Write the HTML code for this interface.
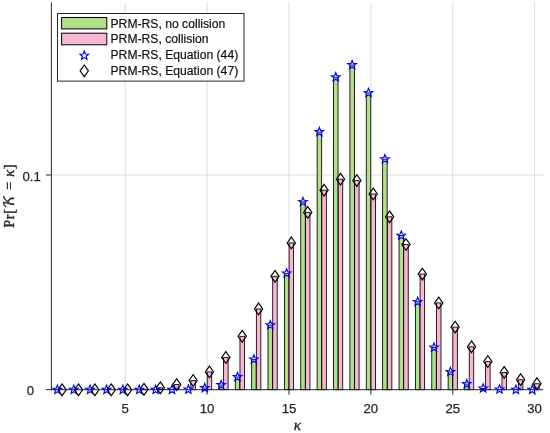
<!DOCTYPE html>
<html><head><meta charset="utf-8"><title>chart</title>
<style>html,body{margin:0;padding:0;background:#fff}svg{display:block}</style></head>
<body>
<svg width="550" height="433" viewBox="0 0 550 433">
<rect width="550" height="433" fill="#fff"/>
<g stroke="#dedede" stroke-width="1" fill="none">
<line x1="125.25" y1="2.4" x2="125.25" y2="389.7"/>
<line x1="207.12" y1="2.4" x2="207.12" y2="389.7"/>
<line x1="289.00" y1="2.4" x2="289.00" y2="389.7"/>
<line x1="370.88" y1="2.4" x2="370.88" y2="389.7"/>
<line x1="452.75" y1="2.4" x2="452.75" y2="389.7"/>
<line x1="534.62" y1="2.4" x2="534.62" y2="389.7"/>
<line x1="51.4" y1="175" x2="543.2" y2="175"/>
</g>
<g stroke="#000" stroke-width="0.85" fill="#b2df8a">
<rect x="202.53" y="388.00" width="4.5" height="1.70"/>
<rect x="218.90" y="385.00" width="4.5" height="4.70"/>
<rect x="235.28" y="377.00" width="4.5" height="12.70"/>
<rect x="251.65" y="359.30" width="4.5" height="30.40"/>
<rect x="268.02" y="325.10" width="4.5" height="64.60"/>
<rect x="284.40" y="273.30" width="4.5" height="116.40"/>
<rect x="300.77" y="201.90" width="4.5" height="187.80"/>
<rect x="317.15" y="132.00" width="4.5" height="257.70"/>
<rect x="333.52" y="77.20" width="4.5" height="312.50"/>
<rect x="349.90" y="65.00" width="4.5" height="324.70"/>
<rect x="366.27" y="92.90" width="4.5" height="296.80"/>
<rect x="382.65" y="159.10" width="4.5" height="230.60"/>
<rect x="399.02" y="235.60" width="4.5" height="154.10"/>
<rect x="415.40" y="301.80" width="4.5" height="87.90"/>
<rect x="431.77" y="347.50" width="4.5" height="42.20"/>
<rect x="448.15" y="371.90" width="4.5" height="17.80"/>
<rect x="464.52" y="384.00" width="4.5" height="5.70"/>
<rect x="480.90" y="388.40" width="4.5" height="1.30"/>
<rect x="497.27" y="389.40" width="4.5" height="0.30"/>
</g>
<g stroke="#000" stroke-width="0.85" fill="#f7b6d2">
<rect x="141.72" y="389.30" width="4.5" height="0.40"/>
<rect x="158.10" y="387.80" width="4.5" height="1.90"/>
<rect x="174.47" y="384.60" width="4.5" height="5.10"/>
<rect x="190.85" y="380.50" width="4.5" height="9.20"/>
<rect x="207.22" y="371.90" width="4.5" height="17.80"/>
<rect x="223.60" y="357.40" width="4.5" height="32.30"/>
<rect x="239.97" y="336.30" width="4.5" height="53.40"/>
<rect x="256.35" y="308.90" width="4.5" height="80.80"/>
<rect x="272.73" y="276.30" width="4.5" height="113.40"/>
<rect x="289.10" y="242.90" width="4.5" height="146.80"/>
<rect x="305.48" y="212.40" width="4.5" height="177.30"/>
<rect x="321.85" y="190.20" width="4.5" height="199.50"/>
<rect x="338.23" y="179.20" width="4.5" height="210.50"/>
<rect x="354.60" y="180.60" width="4.5" height="209.10"/>
<rect x="370.98" y="194.00" width="4.5" height="195.70"/>
<rect x="387.35" y="216.80" width="4.5" height="172.90"/>
<rect x="403.73" y="244.50" width="4.5" height="145.20"/>
<rect x="420.10" y="274.10" width="4.5" height="115.60"/>
<rect x="436.48" y="302.90" width="4.5" height="86.80"/>
<rect x="452.85" y="327.10" width="4.5" height="62.60"/>
<rect x="469.23" y="346.80" width="4.5" height="42.90"/>
<rect x="485.60" y="361.60" width="4.5" height="28.10"/>
<rect x="501.98" y="372.40" width="4.5" height="17.30"/>
<rect x="518.35" y="379.70" width="4.5" height="10.00"/>
<rect x="534.73" y="383.70" width="4.5" height="6.00"/>
</g>
<g stroke="#262626" stroke-width="1" fill="none">
<line x1="51.4" y1="2.4" x2="51.4" y2="390.2"/>
<line x1="51.4" y1="389.7" x2="543.2" y2="389.7"/>
<line x1="125.25" y1="389.7" x2="125.25" y2="394.7"/>
<line x1="207.12" y1="389.7" x2="207.12" y2="394.7"/>
<line x1="289.00" y1="389.7" x2="289.00" y2="394.7"/>
<line x1="370.88" y1="389.7" x2="370.88" y2="394.7"/>
<line x1="452.75" y1="389.7" x2="452.75" y2="394.7"/>
<line x1="534.62" y1="389.7" x2="534.62" y2="394.7"/>
<line x1="45.9" y1="175" x2="51.4" y2="175"/>
<line x1="45.9" y1="389.7" x2="51.4" y2="389.7"/>
</g>
<g stroke="#0000ff" stroke-width="1.15" fill="none" stroke-linejoin="miter">
<polygon points="57.40,385.15 58.55,388.12 61.73,388.29 59.26,390.30 60.07,393.38 57.40,391.66 54.73,393.38 55.54,390.30 53.07,388.29 56.25,388.12"/>
<polygon points="73.78,385.15 74.93,388.12 78.10,388.29 75.64,390.30 76.45,393.38 73.78,391.66 71.10,393.38 71.91,390.30 69.45,388.29 72.62,388.12"/>
<polygon points="90.15,385.15 91.30,388.12 94.48,388.29 92.01,390.30 92.82,393.38 90.15,391.66 87.48,393.38 88.29,390.30 85.82,388.29 89.00,388.12"/>
<polygon points="106.53,385.15 107.68,388.12 110.85,388.29 108.39,390.30 109.20,393.38 106.53,391.66 103.85,393.38 104.66,390.30 102.20,388.29 105.37,388.12"/>
<polygon points="122.90,385.15 124.05,388.12 127.23,388.29 124.76,390.30 125.57,393.38 122.90,391.66 120.23,393.38 121.04,390.30 118.57,388.29 121.75,388.12"/>
<polygon points="139.28,385.15 140.43,388.12 143.60,388.29 141.14,390.30 141.95,393.38 139.28,391.66 136.60,393.38 137.41,390.30 134.95,388.29 138.12,388.12"/>
<polygon points="155.65,385.15 156.80,388.12 159.98,388.29 157.51,390.30 158.32,393.38 155.65,391.66 152.98,393.38 153.79,390.30 151.32,388.29 154.50,388.12"/>
<polygon points="172.03,385.15 173.18,388.12 176.35,388.29 173.89,390.30 174.70,393.38 172.03,391.66 169.35,393.38 170.16,390.30 167.70,388.29 170.87,388.12"/>
<polygon points="188.40,384.95 189.55,387.92 192.73,388.09 190.26,390.10 191.07,393.18 188.40,391.46 185.73,393.18 186.54,390.10 184.07,388.09 187.25,387.92"/>
<polygon points="204.78,383.45 205.93,386.42 209.10,386.59 206.64,388.60 207.45,391.68 204.78,389.96 202.10,391.68 202.91,388.60 200.45,386.59 203.62,386.42"/>
<polygon points="221.15,380.45 222.30,383.42 225.48,383.59 223.01,385.60 223.82,388.68 221.15,386.96 218.48,388.68 219.29,385.60 216.82,383.59 220.00,383.42"/>
<polygon points="237.53,372.45 238.68,375.42 241.85,375.59 239.39,377.60 240.20,380.68 237.53,378.96 234.85,380.68 235.66,377.60 233.20,375.59 236.37,375.42"/>
<polygon points="253.90,354.75 255.05,357.72 258.23,357.89 255.76,359.90 256.57,362.98 253.90,361.26 251.23,362.98 252.04,359.90 249.57,357.89 252.75,357.72"/>
<polygon points="270.27,320.55 271.43,323.52 274.60,323.69 272.14,325.70 272.95,328.78 270.27,327.06 267.60,328.78 268.41,325.70 265.95,323.69 269.12,323.52"/>
<polygon points="286.65,268.75 287.80,271.72 290.98,271.89 288.51,273.90 289.32,276.98 286.65,275.26 283.98,276.98 284.79,273.90 282.32,271.89 285.50,271.72"/>
<polygon points="303.02,197.35 304.18,200.32 307.35,200.49 304.89,202.50 305.70,205.58 303.02,203.86 300.35,205.58 301.16,202.50 298.70,200.49 301.87,200.32"/>
<polygon points="319.40,127.45 320.55,130.42 323.73,130.59 321.26,132.60 322.07,135.68 319.40,133.96 316.73,135.68 317.54,132.60 315.07,130.59 318.25,130.42"/>
<polygon points="335.77,72.65 336.93,75.62 340.10,75.79 337.64,77.80 338.45,80.88 335.77,79.16 333.10,80.88 333.91,77.80 331.45,75.79 334.62,75.62"/>
<polygon points="352.15,60.45 353.30,63.42 356.48,63.59 354.01,65.60 354.82,68.68 352.15,66.96 349.48,68.68 350.29,65.60 347.82,63.59 351.00,63.42"/>
<polygon points="368.52,88.35 369.68,91.32 372.85,91.49 370.39,93.50 371.20,96.58 368.52,94.86 365.85,96.58 366.66,93.50 364.20,91.49 367.37,91.32"/>
<polygon points="384.90,154.55 386.05,157.52 389.23,157.69 386.76,159.70 387.57,162.78 384.90,161.06 382.23,162.78 383.04,159.70 380.57,157.69 383.75,157.52"/>
<polygon points="401.27,231.05 402.43,234.02 405.60,234.19 403.14,236.20 403.95,239.28 401.27,237.56 398.60,239.28 399.41,236.20 396.95,234.19 400.12,234.02"/>
<polygon points="417.65,297.25 418.80,300.22 421.98,300.39 419.51,302.40 420.32,305.48 417.65,303.76 414.98,305.48 415.79,302.40 413.32,300.39 416.50,300.22"/>
<polygon points="434.02,342.95 435.18,345.92 438.35,346.09 435.89,348.10 436.70,351.18 434.02,349.46 431.35,351.18 432.16,348.10 429.70,346.09 432.87,345.92"/>
<polygon points="450.40,367.35 451.55,370.32 454.73,370.49 452.26,372.50 453.07,375.58 450.40,373.86 447.73,375.58 448.54,372.50 446.07,370.49 449.25,370.32"/>
<polygon points="466.77,379.45 467.93,382.42 471.10,382.59 468.64,384.60 469.45,387.68 466.77,385.96 464.10,387.68 464.91,384.60 462.45,382.59 465.62,382.42"/>
<polygon points="483.15,383.85 484.30,386.82 487.48,386.99 485.01,389.00 485.82,392.08 483.15,390.36 480.48,392.08 481.29,389.00 478.82,386.99 482.00,386.82"/>
<polygon points="499.52,384.85 500.68,387.82 503.85,387.99 501.39,390.00 502.20,393.08 499.52,391.36 496.85,393.08 497.66,390.00 495.20,387.99 498.37,387.82"/>
<polygon points="515.90,385.15 517.05,388.12 520.23,388.29 517.76,390.30 518.57,393.38 515.90,391.66 513.23,393.38 514.04,390.30 511.57,388.29 514.75,388.12"/>
<polygon points="532.27,385.15 533.43,388.12 536.60,388.29 534.14,390.30 534.95,393.38 532.27,391.66 529.60,393.38 530.41,390.30 527.95,388.29 531.12,388.12"/>
</g>
<g stroke="#000" stroke-width="1.15" fill="none" stroke-linejoin="miter">
<polygon points="62.10,383.95 66.25,389.80 62.10,395.65 57.95,389.80"/>
<polygon points="78.47,383.95 82.62,389.80 78.47,395.65 74.32,389.80"/>
<polygon points="94.85,383.95 99.00,389.80 94.85,395.65 90.70,389.80"/>
<polygon points="111.22,383.95 115.38,389.80 111.22,395.65 107.07,389.80"/>
<polygon points="127.60,383.95 131.75,389.80 127.60,395.65 123.45,389.80"/>
<polygon points="143.97,383.45 148.12,389.30 143.97,395.15 139.82,389.30"/>
<polygon points="160.35,381.95 164.50,387.80 160.35,393.65 156.20,387.80"/>
<polygon points="176.72,378.75 180.88,384.60 176.72,390.45 172.57,384.60"/>
<polygon points="193.10,374.65 197.25,380.50 193.10,386.35 188.95,380.50"/>
<polygon points="209.47,366.05 213.62,371.90 209.47,377.75 205.32,371.90"/>
<polygon points="225.85,351.55 230.00,357.40 225.85,363.25 221.70,357.40"/>
<polygon points="242.22,330.45 246.38,336.30 242.22,342.15 238.07,336.30"/>
<polygon points="258.60,303.05 262.75,308.90 258.60,314.75 254.45,308.90"/>
<polygon points="274.98,270.45 279.12,276.30 274.98,282.15 270.83,276.30"/>
<polygon points="291.35,237.05 295.50,242.90 291.35,248.75 287.20,242.90"/>
<polygon points="307.73,206.55 311.88,212.40 307.73,218.25 303.58,212.40"/>
<polygon points="324.10,184.35 328.25,190.20 324.10,196.05 319.95,190.20"/>
<polygon points="340.48,173.35 344.62,179.20 340.48,185.05 336.33,179.20"/>
<polygon points="356.85,174.75 361.00,180.60 356.85,186.45 352.70,180.60"/>
<polygon points="373.23,188.15 377.38,194.00 373.23,199.85 369.08,194.00"/>
<polygon points="389.60,210.95 393.75,216.80 389.60,222.65 385.45,216.80"/>
<polygon points="405.98,238.65 410.12,244.50 405.98,250.35 401.83,244.50"/>
<polygon points="422.35,268.25 426.50,274.10 422.35,279.95 418.20,274.10"/>
<polygon points="438.73,297.05 442.88,302.90 438.73,308.75 434.58,302.90"/>
<polygon points="455.10,321.25 459.25,327.10 455.10,332.95 450.95,327.10"/>
<polygon points="471.48,340.95 475.62,346.80 471.48,352.65 467.33,346.80"/>
<polygon points="487.85,355.75 492.00,361.60 487.85,367.45 483.70,361.60"/>
<polygon points="504.23,366.55 508.38,372.40 504.23,378.25 500.08,372.40"/>
<polygon points="520.60,373.85 524.75,379.70 520.60,385.55 516.45,379.70"/>
<polygon points="536.98,377.85 541.12,383.70 536.98,389.55 532.83,383.70"/>
</g>
<g font-family="'Liberation Sans', sans-serif" font-size="13.2" fill="#262626" stroke="#262626" stroke-width="0.25">
<text x="125.25" y="413.2" text-anchor="middle">5</text>
<text x="207.12" y="413.2" text-anchor="middle">10</text>
<text x="289.00" y="413.2" text-anchor="middle">15</text>
<text x="370.88" y="413.2" text-anchor="middle">20</text>
<text x="452.75" y="413.2" text-anchor="middle">25</text>
<text x="534.62" y="413.2" text-anchor="middle">30</text>
<text x="40.8" y="180.7" text-anchor="end">0.1</text>
<text x="30.3" y="395.2" text-anchor="middle">0</text>
</g>
<text x="297.4" y="430" text-anchor="middle" font-family="'Liberation Serif', 'DejaVu Serif', serif" font-style="italic" font-size="15" fill="#262626" stroke="#262626" stroke-width="0.3">κ</text>
<text transform="translate(13.9,195.8) rotate(-90)" text-anchor="middle" font-family="'Liberation Serif', 'DejaVu Math TeX Gyre', 'DejaVu Serif', serif" font-size="14.3" letter-spacing="0.7" stroke="#262626" stroke-width="0.4" fill="#262626">Pr[<tspan font-style="normal">𝒦</tspan> = <tspan font-style="italic">κ</tspan>]</text>
<rect x="57.5" y="13.5" width="186.5" height="67.6" fill="#fff" fill-opacity="0.92" stroke="#262626" stroke-width="1"/>
<rect x="61.6" y="17.5" width="45.2" height="11.4" fill="#b2df8a" stroke="#000" stroke-width="1"/>
<rect x="61.6" y="33.2" width="45.2" height="11.6" fill="#f7b6d2" stroke="#000" stroke-width="1"/>
<g stroke="#0000ff" stroke-width="1.15" fill="none"><polygon points="84.25,51.05 85.40,54.02 88.58,54.19 86.11,56.20 86.92,59.28 84.25,57.56 81.58,59.28 82.39,56.20 79.92,54.19 83.10,54.02"/></g>
<g stroke="#000" stroke-width="1.15" fill="none"><polygon points="84.25,65.00 88.40,70.85 84.25,76.70 80.10,70.85"/></g>
<g font-family="'Liberation Sans', sans-serif" font-size="12.17" fill="#111" stroke="#111" stroke-width="0.2">
<text x="110.5" y="27.60">PRM-RS, no collision</text>
<text x="110.5" y="43.33">PRM-RS, collision</text>
<text x="110.5" y="59.06">PRM-RS, Equation (44)</text>
<text x="110.5" y="74.79">PRM-RS, Equation (47)</text>
</g>
</svg>
</body></html>
